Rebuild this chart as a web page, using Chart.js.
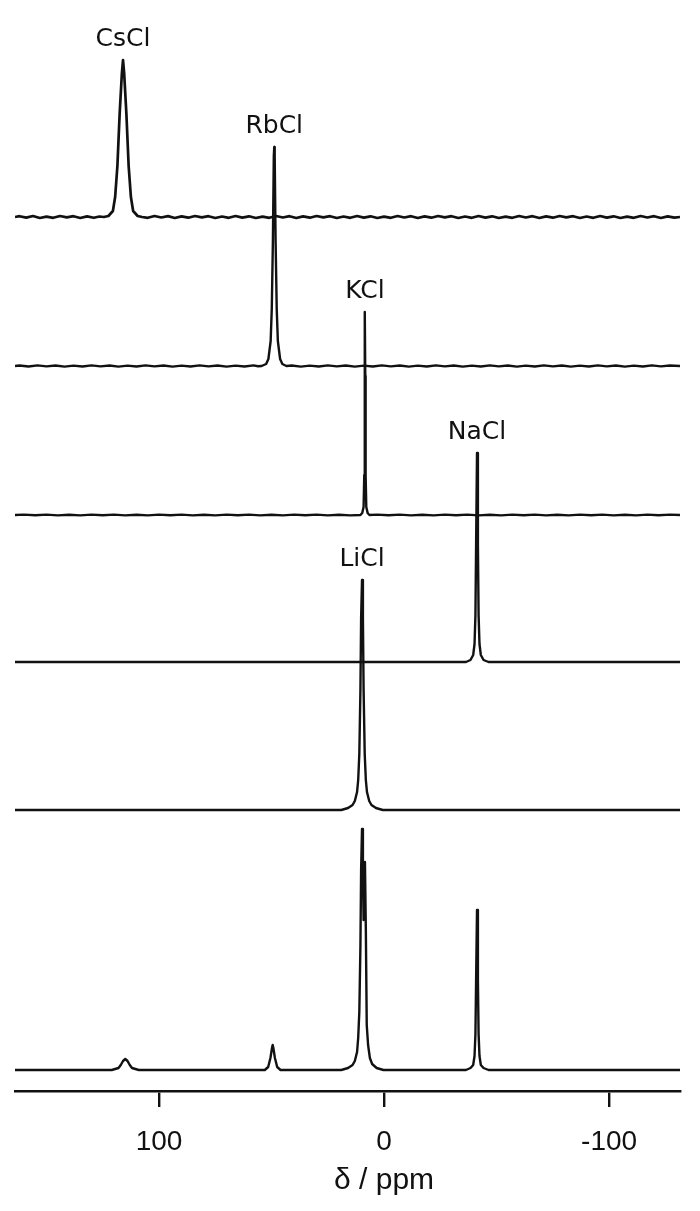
<!DOCTYPE html>
<html>
<head>
<meta charset="utf-8">
<script src="https://cdn.jsdelivr.net/npm/chart.js@4.4.0/dist/chart.umd.min.js"></script>
<style>
  html, body { margin: 0; padding: 0; background: #fff; }
  #wrap { width: 700px; height: 1211px; }
</style>
</head>
<body>
<div id="wrap"><canvas id="nmrChart" width="700" height="1211"></canvas></div>
<script>
// x axis range (ppm, drawn reversed) and tick labels
const xMin = -131.5;
const xMax = 164;
const tickValues = [100, 0, -100];
const axisTitle = 'δ / ppm';

// spectra, top to bottom; last one is the mixture
const names = ['CsCl', 'RbCl', 'KCl', 'NaCl', 'LiCl', ''];
const offsets = [874, 725, 576, 429, 281, 21];
const peakPpm = [116, 48.8, 8.5, -41.3, 9.8, null];
const peakHeight = [157, 219, 203, 209, 230, null];

// peak shapes [ppm, intensity]
const csclPeak = [[124.5,0],[122.5,1],[120.5,6],[119.5,20],[118.5,51],[117.5,103],[116.5,144],[116,157],[115.5,144],[114.5,103],[113.5,51],[112.5,20],[111.5,6],[109.5,1],[107.5,0]];
const rbclPeak = [[54.4,0],[52.4,2],[51.4,7],[50.4,25],[49.9,57],[49.4,125],[49,210],[48.8,219],[48.6,210],[48.2,125],[47.7,57],[47.2,25],[46.2,7],[45.2,2],[43.4,0]];
const kclPeak = [[10.5,0],[9.7,2],[9.1,8],[8.8,40],[8.65,139],[8.5,203],[8.35,139],[8.2,40],[7.9,8],[7.3,2],[6.5,0]];
const naclPeak = [[-36.4,0],[-38.4,2],[-39.6,7],[-40.2,18],[-40.6,47],[-40.9,118],[-41.3,209],[-41.7,118],[-42,47],[-42.4,18],[-43,7],[-44.2,2],[-46.4,0]];
const liclPeak = [[19,0],[16,2],[14,5],[13,9],[12,18],[11.5,30],[11,56],[10.5,121],[10.2,192],[9.8,230],[9.4,192],[9.1,121],[8.6,56],[8.1,30],[7.6,18],[6.6,9],[5.6,5],[3.6,2],[0.6,0]];
const mixPeaks = [
  [121,0],[118,2],[117,5],[116,9],[115,11],[114,9],[113,5],[112,2],[109,0],
  [53,0],[51.5,3],[50.5,12],[49.8,22],[49.5,25],[49.2,22],[48.5,12],[47.5,3],[46,0],
  [19,0],[16,2],[14,5],[13,9],[12,18],[11.5,32],[11,58],[10.5,125],[10.2,200],[9.8,241],[9.4,200],[9.1,150],
  [8.8,170],[8.5,208],[8.1,140],[7.7,45],[7.1,25],[6.3,12],[5.3,6],[3.3,2],[0.3,0],
  [-36.4,0],[-38.4,2],[-39.6,5],[-40.2,14],[-40.6,36],[-40.9,90],[-41.3,160],[-41.7,90],[-42,36],[-42.4,14],[-43,5],[-44.2,2],[-46.4,0]
];

// baseline noise
const csclNoise = [[162,0.8],[159,-0.6],[156,1],[153,-1],[150,0.4],[147,-0.8],[144,1],[141,-0.4],[138,0.8],[135,-1],[132,0.6],[129,-0.8],[126.5,0.5],
  [105,-0.8],[102,1],[99,-0.5],[96,0.9],[93,-1],[90,0.6],[87,-0.7],[84,1],[81,-0.4],[78,0.8],[75,-1],[72,0.5],[69,-0.8],[66,1],
  [63,-0.6],[60,0.7],[57,-1],[54,0.4],[51,-0.8],[48,1],[45,-0.5],[42,0.8],[39,-1],[36,0.6],[33,-0.7],[30,1],[27,-0.4],[24,0.8],
  [21,-1],[18,0.5],[15,-0.8],[12,1],[9,-0.6],[6,0.7],[3,-1],[0,0.4],[-3,-0.8],[-6,1],[-9,-0.5],[-12,0.8],[-15,-1],[-18,0.6],
  [-21,-0.7],[-24,1],[-27,-0.4],[-30,0.8],[-33,-1],[-36,0.5],[-39,-0.8],[-42,1],[-45,-0.6],[-48,0.7],[-51,-1],[-54,0.4],
  [-57,-0.8],[-60,1],[-63,-0.5],[-66,0.8],[-69,-1],[-72,0.6],[-75,-0.7],[-78,1],[-81,-0.4],[-84,0.8],[-87,-1],[-90,0.5],
  [-93,-0.8],[-96,1],[-99,-0.6],[-102,0.7],[-105,-1],[-108,0.4],[-111,-0.8],[-114,1],[-117,-0.5],[-120,0.8],[-123,-1],
  [-126,0.6],[-129,-0.7]];
const rbclNoise = [[162,0.5],[158,-0.5],[154,0.6],[150,-0.4],[146,0.5],[142,-0.6],[138,0.4],[134,-0.5],[130,0.6],[126,-0.4],
  [122,0.5],[118,-0.6],[114,0.4],[110,-0.5],[106,0.6],[102,-0.4],[98,0.5],[94,-0.6],[90,0.4],[86,-0.5],[82,0.6],[78,-0.4],
  [74,0.5],[70,-0.6],[66,0.4],[62,-0.5],[58,0.6],[56,-0.3],
  [41,0.5],[37,-0.6],[33,0.4],[29,-0.5],[25,0.6],[21,-0.4],[17,0.5],[13,-0.6],[9,0.4],[5,-0.5],[1,0.6],[-3,-0.4],[-7,0.5],
  [-11,-0.6],[-15,0.4],[-19,-0.5],[-23,0.6],[-27,-0.4],[-31,0.5],[-35,-0.6],[-39,0.4],[-43,-0.5],[-47,0.6],[-51,-0.4],
  [-55,0.5],[-59,-0.6],[-63,0.4],[-67,-0.5],[-71,0.6],[-75,-0.4],[-79,0.5],[-83,-0.6],[-87,0.4],[-91,-0.5],[-95,0.6],
  [-99,-0.4],[-103,0.5],[-107,-0.6],[-111,0.4],[-115,-0.5],[-119,0.6],[-123,-0.4],[-127,0.5]];
const kclNoise = [[160,0.4],[155,-0.3],[150,0.4],[145,-0.4],[140,0.3],[135,-0.4],[130,0.4],[125,-0.3],[120,0.4],[115,-0.4],
  [110,0.3],[105,-0.4],[100,0.4],[95,-0.3],[90,0.4],[85,-0.4],[80,0.3],[75,-0.4],[70,0.4],[65,-0.3],[60,0.4],[55,-0.4],
  [50,0.3],[45,-0.4],[40,0.4],[35,-0.3],[30,0.4],[25,-0.4],[20,0.3],[15,-0.4],[3,0.4],[-2,-0.3],[-7,0.4],[-12,-0.4],
  [-17,0.3],[-22,-0.4],[-27,0.4],[-32,-0.3],[-37,0.4],[-42,-0.4],[-47,0.3],[-52,-0.4],[-57,0.4],[-62,-0.3],[-67,0.4],
  [-72,-0.4],[-77,0.3],[-82,-0.4],[-87,0.4],[-92,-0.3],[-97,0.4],[-102,-0.4],[-107,0.3],[-112,-0.4],[-117,0.4],
  [-122,-0.3],[-127,0.4]];

const spectra = [
  csclPeak.concat(csclNoise),
  rbclPeak.concat(rbclNoise),
  kclPeak.concat(kclNoise),
  naclPeak,
  liclPeak,
  mixPeaks
];

const datasets = spectra.map((pts, i) => {
  const all = pts.concat([[xMax, 0], [xMin, 0]]).sort((a, b) => b[0] - a[0]);
  return {
    label: names[i] || 'mixture',
    data: all.map(p => ({ x: p[0], y: p[1] + offsets[i] })),
    borderColor: '#111',
    borderWidth: i === 0 ? 2.7 : 2.4,
    borderJoinStyle: 'round',
    pointRadius: 0,
    tension: 0,
    fill: false
  };
});

// compound names above each peak, axis title under the 0 tick
const peakLabels = {
  id: 'peakLabels',
  afterDatasetsDraw(chart) {
    const { ctx, scales: { x, y } } = chart;
    ctx.save();
    ctx.fillStyle = '#111';
    ctx.textAlign = 'center';
    ctx.font = '25px "DejaVu Sans"';
    ctx.textBaseline = 'alphabetic';
    names.forEach((n, i) => {
      if (!n) return;
      ctx.fillText(n, x.getPixelForValue(peakPpm[i]), y.getPixelForValue(offsets[i] + peakHeight[i]) - 14);
    });
    ctx.font = '30px "Liberation Sans"';
    ctx.textBaseline = 'middle';
    ctx.fillText(axisTitle, x.getPixelForValue(0), chart.chartArea.bottom + 90);
    ctx.restore();
  }
};

const ctx = document.getElementById('nmrChart').getContext('2d');
const nmrChart = new Chart(ctx, {
  type: 'line',
  data: { datasets: datasets },
  options: {
    responsive: false,
    animation: false,
    layout: { padding: { top: 15, left: 15, right: 20, bottom: 0 } },
    plugins: { legend: { display: false }, tooltip: { enabled: false } },
    scales: {
      x: {
        type: 'linear',
        reverse: true,
        min: xMin,
        max: xMax,
        afterBuildTicks: s => { s.ticks = tickValues.map(v => ({ value: v })); },
        afterFit: s => { s.height = 120; },
        grid: { drawOnChartArea: false, drawTicks: true, tickLength: 16, color: '#111', lineWidth: 2.4 },
        border: { display: true, color: '#111', width: 2.6 },
        ticks: { color: '#111', font: { family: 'Liberation Sans', size: 28 }, padding: 18, maxRotation: 0 }
      },
      y: { display: false, min: 0, max: 1076 }
    }
  },
  plugins: [peakLabels]
});
</script>
</body>
</html>
